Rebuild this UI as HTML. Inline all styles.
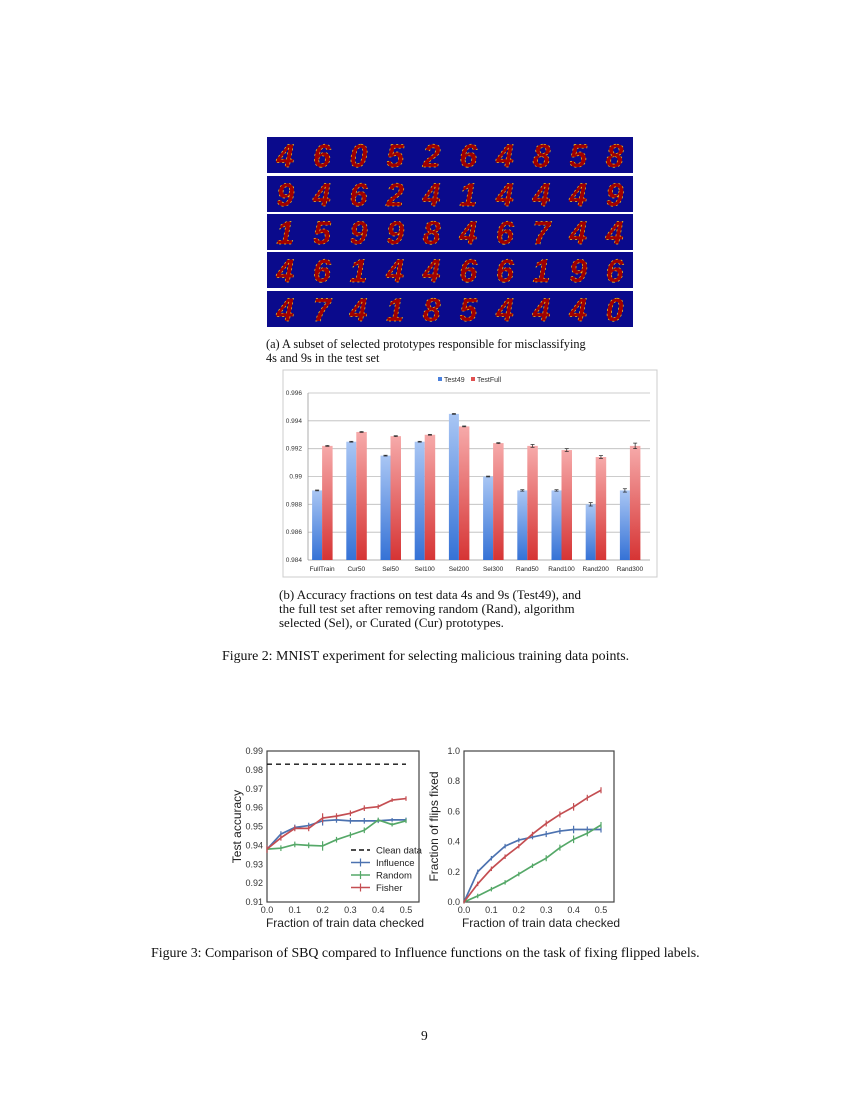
<!DOCTYPE html>
<html><head><meta charset="utf-8">
<style>
body{margin:0;background:#fff;}
#page{position:relative;width:850px;height:1100px;background:#fff;overflow:hidden;font-family:"Liberation Serif",serif;color:#111;}
.cap{position:absolute;font-size:13px;line-height:14px;white-space:nowrap;}
svg{position:absolute;left:0;top:0;}
</style></head>
<body>
<div id="page">
<svg id="digits" width="850" height="1100"></svg>
<div class="cap" style="left:266px;top:337px;font-size:12.3px;">(a) A subset of selected prototypes responsible for misclassifying<br>4s and 9s in the test set</div>
<svg id="bars" width="850" height="1100"></svg>
<div class="cap" style="left:279px;top:588px;">(b) Accuracy fractions on test data 4s and 9s (Test49), and<br>the full test set after removing random (Rand), algorithm<br>selected (Sel), or Curated (Cur) prototypes.</div>
<div class="cap" style="left:222px;top:650px;font-size:13.9px;">Figure 2: MNIST experiment for selecting malicious training data points.</div>
<svg id="lines" width="850" height="1100"></svg>
<div class="cap" style="left:151px;top:947px;font-size:13.9px;">Figure 3: Comparison of SBQ compared to Influence functions on the task of fixing flipped labels.</div>
<div class="cap" style="left:421px;top:1029px;font-size:13.5px;">9</div>
</div>
<script>
const NS="http://www.w3.org/2000/svg";
function mk(p,t,a){const e=document.createElementNS(NS,t);for(const k in a)e.setAttribute(k,a[k]);p.appendChild(e);return e;}

// digit grid
const digitRows=["4605264858","9462414449","1599846744","4614466196","4741854440"];
const dg=document.getElementById('digits');
const rowTops=[137,176,214,252,291];
rowTops.forEach((y,r)=>{
  const rr=mk(dg,'rect',{x:267,y:y,width:366,height:36,fill:'#0a0a8c'});
  
  
  for(let c=0;c<10;c++){
    const t=mk(dg,'text',{x:267+36.6*c+18.3,y:y+30,'text-anchor':'middle','font-size':'32','font-weight':'bold','font-style':'italic','font-family':'Liberation Sans, sans-serif',fill:'#a00000',stroke:'#e8c020','stroke-width':'0.7','stroke-dasharray':'2 3'});
    t.textContent=digitRows[r][c];
    
    
  }
});

// bar chart
const barCats=["FullTrain","Cur50","Sel50","Sel100","Sel200","Sel300","Rand50","Rand100","Rand200","Rand300"];
const test49=[0.989,0.9925,0.9915,0.9925,0.9945,0.990,0.989,0.989,0.988,0.989];
const testFull=[0.9922,0.9932,0.9929,0.9930,0.9936,0.9924,0.9922,0.9919,0.9914,0.9922];
const test49Err=[0.00003,0.00003,0.00003,0.00003,0.00003,0.00003,0.00005,0.00005,0.00012,0.00012];
const testFullErr=[0.00003,0.00003,0.00003,0.00003,0.00003,0.00003,0.0001,0.0001,0.0001,0.0002];
const barTicks=["0.984","0.986","0.988","0.99","0.992","0.994","0.996"];
const bs=document.getElementById('bars');
const bx0=308,bx1=650,by0=560,by1=393;
const by=v=>by0+(v-0.984)/(0.996-0.984)*(by1-by0);
const gw=(bx1-bx0)/barCats.length;
const defs=mk(bs,'defs',{});
const g1=mk(defs,'linearGradient',{id:'gb',x1:0,y1:0,x2:0,y2:1});mk(g1,'stop',{offset:0,'stop-color':'#a9c6f4'});mk(g1,'stop',{offset:1,'stop-color':'#3572d6'});
const g2=mk(defs,'linearGradient',{id:'gr',x1:0,y1:0,x2:0,y2:1});mk(g2,'stop',{offset:0,'stop-color':'#f6aaaa'});mk(g2,'stop',{offset:1,'stop-color':'#d63434'});
mk(bs,'rect',{x:283,y:370,width:374,height:207,fill:'#fff',stroke:'#ccc','stroke-width':1});
barTicks.forEach(t=>{const v=parseFloat(t);const y=by(v);
  mk(bs,'line',{x1:bx0,x2:bx1,y1:y,y2:y,stroke:v===0.984?'#999':'#bbb','stroke-width':0.8});
  const tx=mk(bs,'text',{x:bx0-6,y:y+2,'text-anchor':'end','font-size':'6.5','font-family':'Liberation Sans, sans-serif',fill:'#333'});tx.textContent=t;
  });
mk(bs,'line',{x1:bx0,x2:bx0,y1:by1,y2:by0,stroke:'#999','stroke-width':0.8});
barCats.forEach((c,i)=>{const cx=bx0+gw*(i+0.5)-3;
  const b1=mk(bs,'rect',{x:cx-10,y:by(test49[i]),width:10,height:by0-by(test49[i]),fill:'url(#gb)'});
  
  const b2=mk(bs,'rect',{x:cx,y:by(testFull[i]),width:10.5,height:by0-by(testFull[i]),fill:'url(#gr)'});
  
  [[cx-5,test49[i],test49Err[i]],[cx+5.25,testFull[i],testFullErr[i]]].forEach(([x,v,e])=>{
    mk(bs,'line',{x1:x,x2:x,y1:by(v+e),y2:by(v-e),stroke:'#222','stroke-width':0.7});
    mk(bs,'line',{x1:x-2,x2:x+2,y1:by(v+e),y2:by(v+e),stroke:'#222','stroke-width':0.7});
    mk(bs,'line',{x1:x-2,x2:x+2,y1:by(v-e),y2:by(v-e),stroke:'#222','stroke-width':0.7});});
  const t=mk(bs,'text',{x:cx,y:571,'text-anchor':'middle','font-size':'6.5','font-family':'Liberation Sans, sans-serif',fill:'#222'});t.textContent=c;
  
});
mk(bs,'rect',{x:438,y:377,width:4,height:4,fill:'#4a80dc'});
let lt=mk(bs,'text',{x:444,y:382,'font-size':'7','font-family':'Liberation Sans, sans-serif',fill:'#333'});lt.textContent='Test49';

mk(bs,'rect',{x:471,y:377,width:4,height:4,fill:'#e05050'});
lt=mk(bs,'text',{x:477,y:382,'font-size':'7','font-family':'Liberation Sans, sans-serif',fill:'#333'});lt.textContent='TestFull';


// line charts
const xs=[0,0.05,0.1,0.15,0.2,0.25,0.3,0.35,0.4,0.45,0.5];
const accInfluence=[0.938,0.946,0.9495,0.9505,0.953,0.9535,0.953,0.953,0.953,0.9535,0.9535];
const accRandom=[0.938,0.9385,0.9405,0.940,0.9397,0.943,0.9455,0.948,0.9535,0.951,0.953];
const accFisher=[0.938,0.944,0.949,0.949,0.9545,0.9555,0.957,0.9597,0.9605,0.964,0.9648];
const accErr=[0.002,0.0015,0.0015,0.0015,0.0025,0.0015,0.0015,0.0015,0.0012,0.001,0.0012];
const cleanAcc=0.983;
const flipInfluence=[0,0.2,0.29,0.37,0.41,0.43,0.45,0.47,0.48,0.48,0.48];
const flipRandom=[0,0.04,0.085,0.13,0.185,0.24,0.29,0.36,0.415,0.455,0.51];
const flipFisher=[0,0.12,0.22,0.30,0.37,0.45,0.52,0.58,0.63,0.69,0.74];
const flipErr=[0.01,0.015,0.015,0.015,0.015,0.015,0.02,0.02,0.025,0.02,0.02];
const accTicks=["0.91","0.92","0.93","0.94","0.95","0.96","0.97","0.98","0.99"];
const flipTicks=["0.0","0.2","0.4","0.6","0.8","1.0"];
const xTicks=["0.0","0.1","0.2","0.3","0.4","0.5"];
const ls=document.getElementById('lines');
const C={inf:'#4c72b0',rnd:'#55a868',fis:'#c44e52'};
const FF='Liberation Sans, sans-serif';
function panel(px0,pxR,vmin,vmax,ticks,series,ytitle,name){
  const py0=902,py1=751,x0=px0,x5=pxR-13;
  const sx=v=>x0+v/0.5*(x5-x0), sy=v=>py0+(v-vmin)/(vmax-vmin)*(py1-py0);
  const g=mk(ls,'g',{});
  mk(g,'rect',{x:px0,y:py1,width:pxR-px0,height:py0-py1,fill:'#fff',stroke:'#444','stroke-width':1.2});
  ticks.forEach(t=>{const tx=mk(g,'text',{x:px0-4,y:sy(parseFloat(t))+3,'text-anchor':'end','font-size':'9','font-family':FF,fill:'#333'});tx.textContent=t;
    });
  xTicks.forEach(t=>{const tx=mk(g,'text',{x:sx(parseFloat(t)),y:913,'text-anchor':'middle','font-size':'9','font-family':FF,fill:'#333'});tx.textContent=t;
    });
  let tt=mk(g,'text',{x:(px0+pxR)/2+2,y:927,'text-anchor':'middle','font-size':'12','font-family':FF,fill:'#222'});tt.textContent='Fraction of train data checked';
  
  const yc=(py0+py1)/2, xt=px0-26;
  tt=mk(g,'text',{x:xt,y:yc,'text-anchor':'middle','font-size':'12','font-family':FF,fill:'#222',transform:`rotate(-90 ${xt} ${yc})`});tt.textContent=ytitle;
  
  series.forEach(([vals,err,col,sname])=>{
    const p=mk(g,'polyline',{points:xs.map((x,i)=>sx(x)+','+sy(vals[i])).join(' '),fill:'none',stroke:col,'stroke-width':1.7});
    
    xs.forEach((x,i)=>{mk(g,'line',{x1:sx(x),x2:sx(x),y1:sy(vals[i]-err[i]),y2:sy(vals[i]+err[i]),stroke:col,'stroke-width':1.2});});
  });
  return {sx,sy,g};
}
const L=panel(267,419,0.91,0.99,accTicks,[[accInfluence,accErr,C.inf,'influence'],[accRandom,accErr,C.rnd,'random'],[accFisher,accErr,C.fis,'fisher']],'Test accuracy','test-accuracy-chart');
const cl=mk(L.g,'line',{x1:L.sx(0),x2:L.sx(0.5),y1:L.sy(cleanAcc),y2:L.sy(cleanAcc),stroke:'#111','stroke-width':1.4,'stroke-dasharray':'5 4'});

const leg=[['Clean data','#111',true],['Influence',C.inf],['Random',C.rnd],['Fisher',C.fis]];
leg.forEach(([n,c,d],i)=>{const y=850+i*12.5;
  mk(L.g,'line',{x1:351,x2:370,y1:y,y2:y,stroke:c,'stroke-width':1.5,'stroke-dasharray':d?'5 3':'none'});
  if(!d)mk(L.g,'line',{x1:360.5,x2:360.5,y1:y-4,y2:y+4,stroke:c,'stroke-width':1.2});
  const t=mk(L.g,'text',{x:376,y:y+3.5,'font-size':'9.5','font-family':FF,fill:'#222'});t.textContent=n;
  });
panel(464,614,0,1,flipTicks,[[flipInfluence,flipErr,C.inf,'influence'],[flipRandom,flipErr,C.rnd,'random'],[flipFisher,flipErr,C.fis,'fisher']],'Fraction of flips fixed','flips-fixed-chart');
</script>
</body></html>
